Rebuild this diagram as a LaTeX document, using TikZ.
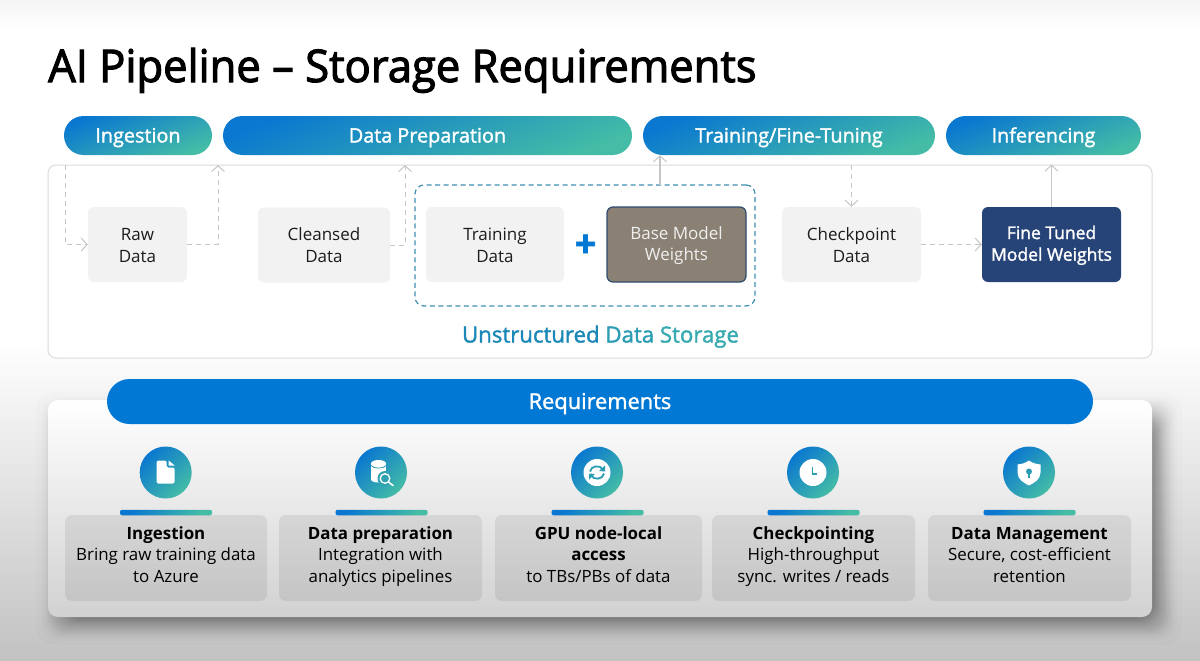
\documentclass[tikz,border=0pt]{standalone}
\usepackage{fontspec}
\setmainfont{Open Sans}
\usetikzlibrary{arrows.meta}
\definecolor{gblue}{HTML}{0A78D0}
\definecolor{gteal}{HTML}{44BCA6}
\definecolor{msblue}{HTML}{0078D4}
\definecolor{midteal}{HTML}{2A9DB2}
\definecolor{linegray}{HTML}{C6C6C6}
\definecolor{txt}{HTML}{1C1C1C}
\definecolor{HTMLbase}{HTML}{8A8073}
\definecolor{HTMLedge}{HTML}{2F4C6E}
\definecolor{HTMLfine}{HTML}{264478}
\definecolor{HTMLdash}{HTML}{3F8FB5}
\definecolor{HTMLua}{HTML}{1C88B8}
\definecolor{HTMLub}{HTML}{2A9CB4}
\definecolor{HTMLuc}{HTML}{36AAAE}
\newcommand\boxtop{\rule{0pt}{15pt}}
\newcommand\boxbot{\rule[-1.5pt]{0pt}{1.5pt}}
\newcommand\cardtop{\rule{0pt}{14pt}}
\newcommand\cardbot{\rule[-8.3pt]{0pt}{8.3pt}}
\tikzset{
  x=1pt,y=-1pt,
  grad/.style={top color=gblue,bottom color=gteal,shading angle=45},
  pill/.style={top color=gblue,bottom color=gteal,shading angle=22,rounded corners=19.5pt,minimum height=39pt,inner sep=0pt,text=white,text height=14pt,text depth=0pt,font=\fontsize{19.8}{24}\selectfont\addfontfeatures{FakeBold=1.6}},
  box/.style={rounded corners=6pt,minimum height=75pt,inner sep=0pt,align=center,font=\fontsize{17}{21.7}\selectfont},
  lightbox/.style={box,fill=black!5,text=txt},
  card/.style={fill=black,fill opacity=.07,text opacity=1,rounded corners=7pt,minimum height=86pt,inner sep=0pt,align=center,text=black,font=\fontsize{16.9}{21.7}\selectfont},
  iconcirc/.style={circle,grad,minimum size=52pt,inner sep=0pt},
  topbar/.style={top color=gblue,bottom color=gteal,shading angle=60,rounded corners=2pt,minimum width=92pt,minimum height=5.5pt,inner sep=0pt},
  dashline/.style={draw=linegray,line width=1pt,dash pattern=on 5pt off 4pt},
  solidline/.style={draw=linegray,line width=1.3pt},
  chev/.style={-{Straight Barb[length=6pt,width=13pt,line width=1pt]}},
}
\begin{document}
\begin{tikzpicture}
\useasboundingbox (0,0) rectangle (1200,661);
% background
\fill[white] (0,0) rectangle (1200,340);
\shade[top color=white,bottom color=black!24] (0,340) rectangle (1200,661);
\shade[top color=black!4,bottom color=white] (0,0) rectangle (1200,30);
% title
\node[anchor=base west,inner sep=0pt,text=black,font=\fontsize{45}{50}\selectfont\addfontfeatures{FakeBold=2.4,FakeStretch=0.968}] (title) at (48,82) {AI Pipeline – Storage Requirements};
% upper panel
\node[draw=black!14,fill=white,rounded corners=8pt,minimum width=1104pt,minimum height=193pt,inner sep=0pt,line width=1pt] (panel) at (600,261.5) {};
% phase pills
\node[pill,minimum width=148pt] (ping) at (138,135.5) {Ingestion};
\node[pill,minimum width=409pt] (pprep) at (427.5,135.5) {Data Preparation};
\node[pill,minimum width=292pt] (ptrain) at (789,135.5) {Training/Fine-Tuning};
\node[pill,minimum width=195pt] (pinf) at (1043.5,135.5) {Inferencing};
% data boxes
\node[lightbox,minimum width=99pt] (raw) at (137.5,244.5) {\boxtop Raw\\Data\boxbot};
\node[lightbox,minimum width=132pt] (clean) at (324,245) {\boxtop Cleansed\\Data\boxbot};
\node[lightbox,minimum width=138pt] (train) at (495,244.5) {\boxtop Training\\Data\boxbot};
\node[box,fill=HTMLbase,draw=HTMLedge,line width=1.2pt,text=black!6,minimum width=139pt] (base) at (676.5,244.5) {\boxtop Base Model\\Weights\boxbot};
\node[lightbox,minimum width=139pt] (ckpt) at (851.5,244.5) {\boxtop Checkpoint\\Data\boxbot};
\node[box,fill=HTMLfine,text=white,minimum width=139pt,font=\fontsize{17.5}{21.7}\selectfont\addfontfeatures{FakeBold=1.6}] (fine) at (1051.5,244.5) {\boxtop Fine Tuned\\Model Weights\boxbot};
\node[text=msblue,inner sep=0pt,font=\fontsize{38}{38}\selectfont\bfseries\addfontfeatures{FakeBold=1.5}] (plus) at (585.5,246) {+};
% dashed group
\node[draw=HTMLdash,line width=1.2pt,dash pattern=on 5pt off 3.5pt,rounded corners=9pt,minimum width=340pt,minimum height=121pt,inner sep=0pt] (group) at (585,245.5) {};
\node[inner sep=0pt,text height=15pt,text depth=0pt,font=\fontsize{22.2}{26}\selectfont\addfontfeatures{FakeBold=1.6}] (storage) at (600.5,335) {\textcolor{HTMLua}{Unstructured} \textcolor{HTMLub}{Data} \textcolor{HTMLuc}{Storage}};
% connectors
\coordinate (ingout) at (65,165);
\coordinate (rawup) at (218,165);
\coordinate (cleanup) at (405,165);
\coordinate (groupout) at (660,185);
\draw[dashline,chev] (ingout) |- (raw.west);
\draw[dashline,chev] (raw.east) -| (rawup);
\draw[dashline,chev] (clean.east) -| (cleanup);
\draw[solidline,chev] (groupout) -- (groupout |- ptrain.south);
\draw[dashline,chev] (ckpt.north |- panel.north) -- (ckpt.north);
\draw[dashline,chev] (ckpt.east) -- (fine.west);
\draw[solidline,chev] (fine.north) -- (fine.north |- panel.north);
% lower panel with shadow
\foreach \i in {0,...,36}{
  \pgfmathsetmacro\ins{5*sqrt(\i)}
  \pgfmathsetmacro\insb{4.7*sqrt(\i)}
  \fill[black,opacity=.012,rounded corners=18pt] (36+\ins,392+\ins) rectangle (1182-\ins,645-\insb);
}
\node[top color=white,bottom color=black!18,rounded corners=10pt,minimum width=1104pt,minimum height=217pt,inner sep=0pt] (lower) at (600,508.5) {};
\node[fill=msblue,rounded corners=22.5pt,minimum width=986pt,minimum height=45pt,inner sep=0pt,text=white,text height=15pt,text depth=0pt,font=\fontsize{21.8}{26}\selectfont\addfontfeatures{FakeBold=1.6}] (req) at (600,401.5) {Requirements};
% requirement icons
\node[iconcirc] (ic1) at (165.7,472.5) {};
\node[iconcirc] (ic2) at (381,472.5) {};
\node[iconcirc] (ic3) at (597,472.5) {};
\node[iconcirc] (ic4) at (813,472.5) {};
\node[iconcirc] (ic5) at (1029,472.5) {};
% bars
\node[topbar] (b1) at (166,512.5) {};
\node[topbar] (b2) at (381.5,512.5) {};
\node[topbar] (b3) at (597.5,512.5) {};
\node[topbar] (b4) at (813.5,512.5) {};
\node[topbar] (b5) at (1029.5,512.5) {};
% cards
\node[card,minimum width=202pt] (c1) at (166,558) {\cardtop\textbf{Ingestion}\\Bring raw training data\\to Azure\cardbot};
\node[card,minimum width=203pt] (c2) at (380.5,558) {\cardtop\textbf{Data preparation}\\Integration with\\analytics pipelines\cardbot};
\node[card,minimum width=207pt] (c3) at (598.5,558) {\cardtop\textbf{GPU node-local}\\\textbf{access}\\to TBs/PBs of data\cardbot};
\node[card,minimum width=203pt] (c4) at (813.5,558) {\cardtop\textbf{Checkpointing}\\High-throughput\\sync. writes / reads\cardbot};
\node[card,minimum width=203pt] (c5) at (1029.5,558) {\cardtop\textbf{Data Management}\\Secure, cost-efficient\\retention\cardbot};
% icon glyphs: document
\begin{scope}[shift={(165.7,472.5)}]
  \fill[white,rounded corners=1.5pt] (-9,-12) -- (1,-12) -- (1,-5) -- (9,-5) -- (9,11) -- (-9,11) -- cycle;
  \fill[white] (3,-12) -- (9,-7) -- (3,-7) -- cycle;
\end{scope}
% database and magnifier
\begin{scope}[shift={(381,472.5)}]
  \fill[white] (-10,-9) rectangle (5,7);
  \fill[white] (-2.5,7) ellipse [x radius=7.5,y radius=3];
  \fill[white] (-2.5,-9) ellipse [x radius=7.5,y radius=3.5];
  \draw[midteal,line width=.8pt] (-10,-7) .. controls (-8,-3.5) and (3,-3.5) .. (5,-7);
  \fill[midteal!80!gteal] (4,6) circle (7.5);
  \draw[white,line width=1.3pt] (4,6) circle (4.8);
  \draw[white,line width=1.6pt,line cap=round] (7.5,9.5) -- (12,13);
\end{scope}
% sync
\begin{scope}[shift={(597,472.5)}]
  \fill[white] (0,0) circle (13.5);
  \draw[midteal,line width=1.8pt] (-7,-1) .. controls (-6,-7) and (3,-8) .. (6,-3);
  \draw[midteal,line width=1.8pt] (7,1) .. controls (6,7) and (-3,8) .. (-6,3);
  \fill[midteal] (8,-7) -- (8,-1) -- (2,-1.5) -- cycle;
  \fill[midteal] (-8,7) -- (-8,1) -- (-2,1.5) -- cycle;
\end{scope}
% clock
\begin{scope}[shift={(813,472.5)}]
  \fill[white] (0,0) circle (13.5);
  \draw[midteal,line width=1.5pt] (-.5,-6) -- (-.5,1.5) -- (4,1.5);
\end{scope}
% shield
\begin{scope}[shift={(1029,472.5)}]
  \fill[white] (0,-12) .. controls (4,-9) and (8,-8.5) .. (11.5,-8) -- (11.5,0) .. controls (11.5,7) and (5,10.5) .. (0,13) .. controls (-5,10.5) and (-11.5,7) .. (-11.5,0) -- (-11.5,-8) .. controls (-8,-8.5) and (-4,-9) .. (0,-12) -- cycle;
  \fill[midteal] (0,-1) circle (3);
  \draw[midteal,line width=1.6pt] (0,0) -- (0,5.5);
\end{scope}
\end{tikzpicture}
\end{document}
